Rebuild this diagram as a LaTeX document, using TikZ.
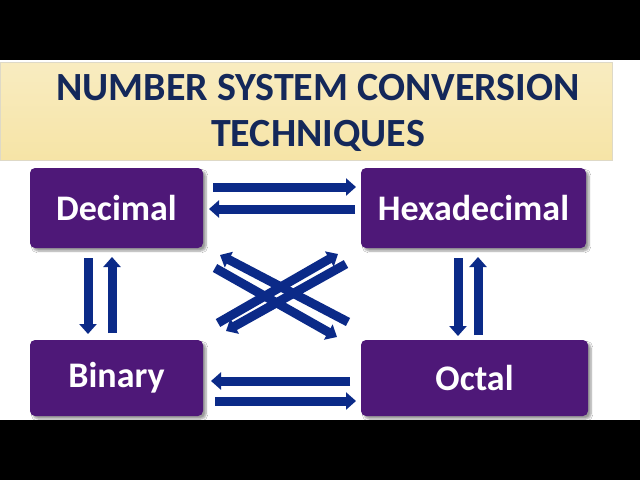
\documentclass[tikz,border=0pt]{standalone}
\usepackage{fontspec}
\setmainfont{Carlito}
\usetikzlibrary{arrows.meta,shadows.blur}
\definecolor{navy}{HTML}{14285A}
\definecolor{arr}{HTML}{0B2A88}
\definecolor{purp}{HTML}{4E1878}
\definecolor{band}{HTML}{F6E4A6}
\tikzset{
  box/.style={draw=none,fill=purp,rounded corners=5pt,text=white,font=\bfseries\fontsize{36}{40}\selectfont,inner sep=0pt,blur shadow={shadow blur steps=6,shadow xshift=3pt,shadow yshift=-3pt}},
  bar/.style={line width=9pt,color=arr,-{Triangle[length=10pt,width=17pt]}}
}
\begin{document}
\begin{tikzpicture}[x=1pt,y=-1pt]
\useasboundingbox (0,0) rectangle (640,480);
\fill[black] (0,0) rectangle (640,60);
\fill[black] (0,420) rectangle (640,480);
\fill[white] (0,60) rectangle (640,420);
\shade[top color=band!70!white,bottom color=band,draw=band!70!black!40] (0,62) rectangle (612,160);
\node[text=navy,font=\bfseries\fontsize{40}{46}\selectfont,align=center] (title) at (318,113) {NUMBER SYSTEM CONVERSION\\TECHNIQUES};
\node[box,minimum width=173pt,minimum height=80pt] (dec) at (116.5,208) {Decimal};
\node[box,minimum width=225pt,minimum height=80pt] (hex) at (473.5,208) {Hexadecimal};
\node[box,minimum width=173pt,minimum height=76pt] (bin) at (116.5,378) {Binary};
\node[box,minimum width=227pt,minimum height=76pt] (oct) at (474.5,378) {Octal};
% horizontal
\coordinate (h1a) at (213,187); \coordinate (h1b) at (356,187);
\coordinate (h2a) at (355,209); \coordinate (h2b) at (209,209);
\draw[bar] (h1a) -- (h1b);
\draw[bar] (h2a) -- (h2b);
\coordinate (b1a) at (350,381); \coordinate (b1b) at (211,381);
\coordinate (b2a) at (215,401); \coordinate (b2b) at (356,401);
\draw[bar] (b1a) -- (b1b);
\draw[bar] (b2a) -- (b2b);
% vertical
\coordinate (v1a) at (88,258); \coordinate (v1b) at (88,334);
\coordinate (v2a) at (112,333); \coordinate (v2b) at (112,257);
\draw[bar] (v1a) -- (v1b);
\draw[bar] (v2a) -- (v2b);
\coordinate (v3a) at (458,258); \coordinate (v3b) at (458,336);
\coordinate (v4a) at (478,335); \coordinate (v4b) at (478,257);
\draw[bar] (v3a) -- (v3b);
\draw[bar] (v4a) -- (v4b);
% diagonals
\coordinate (d1a) at (348,322); \coordinate (d1b) at (220,255);
\coordinate (d2a) at (215,268); \coordinate (d2b) at (337,337);
\coordinate (d3a) at (218,323); \coordinate (d3b) at (338,254);
\coordinate (d4a) at (346,264); \coordinate (d4b) at (226,331);
\draw[bar] (d1a) -- (d1b);
\draw[bar] (d2a) -- (d2b);
\draw[bar] (d3a) -- (d3b);
\draw[bar] (d4a) -- (d4b);
\end{tikzpicture}
\end{document}
